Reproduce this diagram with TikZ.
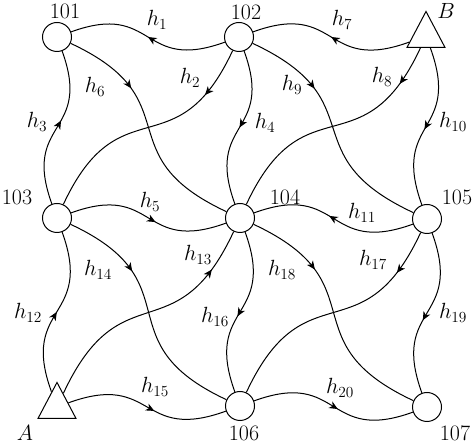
\RequirePackage{fix-cm}
\documentclass[tikz,border=0pt]{standalone}
\usetikzlibrary{shapes.geometric,decorations.markings,arrows.meta}
\begin{document}
\begin{tikzpicture}[x=1pt,y=1pt,
  vert/.style={circle,draw,line width=1pt,minimum size=29pt,inner sep=0pt},
  tri/.style={isosceles triangle,shape border rotate=90,isosceles triangle stretches,draw,line width=1pt,minimum width=38pt,minimum height=36pt,inner sep=0pt},
  lab/.style={font=\fontsize{22}{26}\selectfont,inner sep=0pt},
  hl/.style={font=\fontsize{22}{26}\selectfont,inner sep=0pt},
  edge/.style={line width=1pt,looseness=1.5},
  arr/.style={postaction={decorate},decoration={markings,mark=at position #1 with {\arrow{Stealth[length=8.5pt,width=7.5pt,inset=2.5pt]}}}}
]
\useasboundingbox (0,0) rectangle (474,444);
% vertices
\node[vert] (n101) at (57,407) {};
\node[vert] (n102) at (239,407) {};
\node[tri]  (nB)   at (426,408) {};
\node[vert] (n103) at (57,226) {};
\node[vert] (n104) at (240,226) {};
\node[vert] (n105) at (427,225) {};
\node[tri]  (nA)   at (57,37) {};
\node[vert] (n106) at (240,38) {};
\node[vert] (n107) at (427,37) {};
% vertex labels
\node[lab] (l101) at (65,433) {101};
\node[lab] (l102) at (246,432) {102};
\node[lab] (lB)   at (446,433) {$B$};
\node[lab] (l103) at (17,247) {103};
\node[lab] (l104) at (285,247) {104};
\node[lab] (l105) at (457,247) {105};
\node[lab] (lA)   at (25,11) {$A$};
\node[lab] (l106) at (244,11) {106};
\node[lab] (l107) at (455,11) {107};
% horizontal edges
\draw[edge,arr=0.5]  (n102) to[out=200,in=20] (n101);
\draw[edge,arr=0.5]  (nB)   to[out=200,in=20] (n102);
\draw[edge,arr=0.55] (n103) to[out=20,in=200] (n104);
\draw[edge,arr=0.53] (n105) to[out=200,in=20] (n104);
\draw[edge,arr=0.55] (nA)   to[out=20,in=200] (n106);
\draw[edge,arr=0.53] (n106) to[out=20,in=200] (n107);
% vertical edges
\draw[edge,arr=0.55] (n103) to[out=110,in=-70] (n101);
\draw[edge,arr=0.5]  (n102) to[out=-70,in=110] (n104);
\draw[edge,arr=0.52] (nB)   to[out=-70,in=110] (n105);
\draw[edge,arr=0.5]  (nA)   to[out=110,in=-70] (n103);
\draw[edge,arr=0.53] (n104) to[out=-70,in=110] (n106);
\draw[edge,arr=0.55] (n105) to[out=-70,in=110] (n107);
% diagonal edges
\draw[edge,arr=0.32] (n101) to[out=-25,in=155] (n104);
\draw[edge,arr=0.22] (n102) to[out=-115,in=65] (n103);
\draw[edge,arr=0.32] (n102) to[out=-25,in=155] (n105);
\draw[edge,arr=0.17] (nB)   to[out=-115,in=65] (n104);
\draw[edge,arr=0.32] (n103) to[out=-25,in=155] (n106);
\draw[edge,arr=0.82] (nA)   to[out=65,in=-115] (n104);
\draw[edge,arr=0.31] (n104) to[out=-25,in=155] (n107);
\draw[edge,arr=0.19] (n105) to[out=-115,in=65] (n106);
% edge labels
\node[hl] (h1)  at (157,424) {$h_{1}$};
\node[hl] (h2)  at (190,366) {$h_{2}$};
\node[hl] (h3)  at (37,322)  {$h_{3}$};
\node[hl] (h4)  at (265,321) {$h_{4}$};
\node[hl] (h5)  at (150,242) {$h_{5}$};
\node[hl] (h6)  at (95,357)  {$h_{6}$};
\node[hl] (h7)  at (342,424) {$h_{7}$};
\node[hl] (h8)  at (382,367) {$h_{8}$};
\node[hl] (h9)  at (292,359) {$h_{9}$};
\node[hl] (h10) at (453,322) {$h_{10}$};
\node[hl] (h11) at (362,231) {$h_{11}$};
\node[hl] (h12) at (28,131)  {$h_{12}$};
\node[hl] (h13) at (198,189) {$h_{13}$};
\node[hl] (h14) at (98,174)  {$h_{14}$};
\node[hl] (h15) at (155,57)  {$h_{15}$};
\node[hl] (h16) at (215,127) {$h_{16}$};
\node[hl] (h17) at (373,184) {$h_{17}$};
\node[hl] (h18) at (282,174) {$h_{18}$};
\node[hl] (h19) at (453,131) {$h_{19}$};
\node[hl] (h20) at (340,56)  {$h_{20}$};
\end{tikzpicture}
\end{document}
